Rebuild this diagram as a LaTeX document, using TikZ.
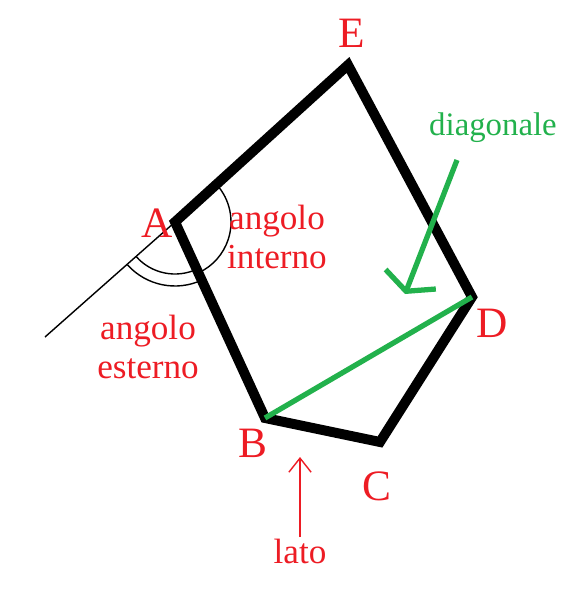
\documentclass[tikz,border=0pt]{standalone}
\usepackage{fontspec}
\setmainfont{Liberation Serif}
\usepackage{tikz}
\usetikzlibrary{arrows.meta}
\definecolor{paintred}{RGB}{237,28,36}
\definecolor{paintgreen}{RGB}{34,177,76}

\begin{document}
\begin{tikzpicture}[x=0.03cm, y=-0.03cm,
    side/.style    = {line width=8.5pt, line join=miter},
    thin line/.style = {line width=1.2pt},
    redtext/.style = {text=paintred, font=\fontsize{30}{33}\selectfont,
      align=center, inner sep=1pt},
    vertex/.style  = {redtext, font=\fontsize{37}{40}\selectfont},
    greentext/.style = {text=paintgreen, font=\fontsize{28}{33}\selectfont,
      inner sep=1pt},
    diag/.style    = {draw=paintgreen, line width=4.5pt},
  ]
  \useasboundingbox (0,0) rectangle (585,589);
  \coordinate (A) at (175,222);
  \coordinate (E) at (348,65);
  \coordinate (D) at (472,297);
  \coordinate (C) at (380,442);
  \coordinate (B) at (265,418);
  \coordinate (ext) at (45,337);
  \coordinate (dstart) at (457,160);
  \coordinate (dtip) at (405,294);
  \coordinate (latotip) at (300,457);

  \draw[thin line] (A) -- (ext);
  \draw[thin line] (A) ++(-42:56) arc[start angle=-42, end angle=65, radius=56];
  \draw[thin line] (A) ++(65:52) arc[start angle=65, end angle=138, radius=52];
  \draw[thin line] (A) ++(65:64) arc[start angle=65, end angle=138, radius=64];

  \draw[side] (A) -- (E) -- (D) -- (C) -- (B) -- cycle;
  \draw[diag] (B) -- (D);
  \draw[diag, -{Straight Barb[length=11pt, width=46pt, line width=4.5pt]}] (dstart) -- (dtip);

  \node[vertex] (lblE) at (352,33) {E};
  \node[vertex] (lblA) at (157,223) {A};
  \node[vertex] (lblD) at (492,323) {D};
  \node[vertex] (lblB) at (253,443) {B};
  \node[vertex] (lblC) at (377,486) {C};
  \node[redtext] (interno) at (277,237) {angolo\\interno};
  \node[redtext] (esterno) at (148,347) {angolo\\esterno};
  \node[redtext] (lato) at (300,551) {lato};
  \node[greentext] (diagonale) at (493,128) {diagonale};

  \draw[thin line, draw=paintred, -{Straight Barb[length=12pt, width=19pt, line width=1.2pt]}] (lato) -- (latotip);
\end{tikzpicture}
\end{document}
